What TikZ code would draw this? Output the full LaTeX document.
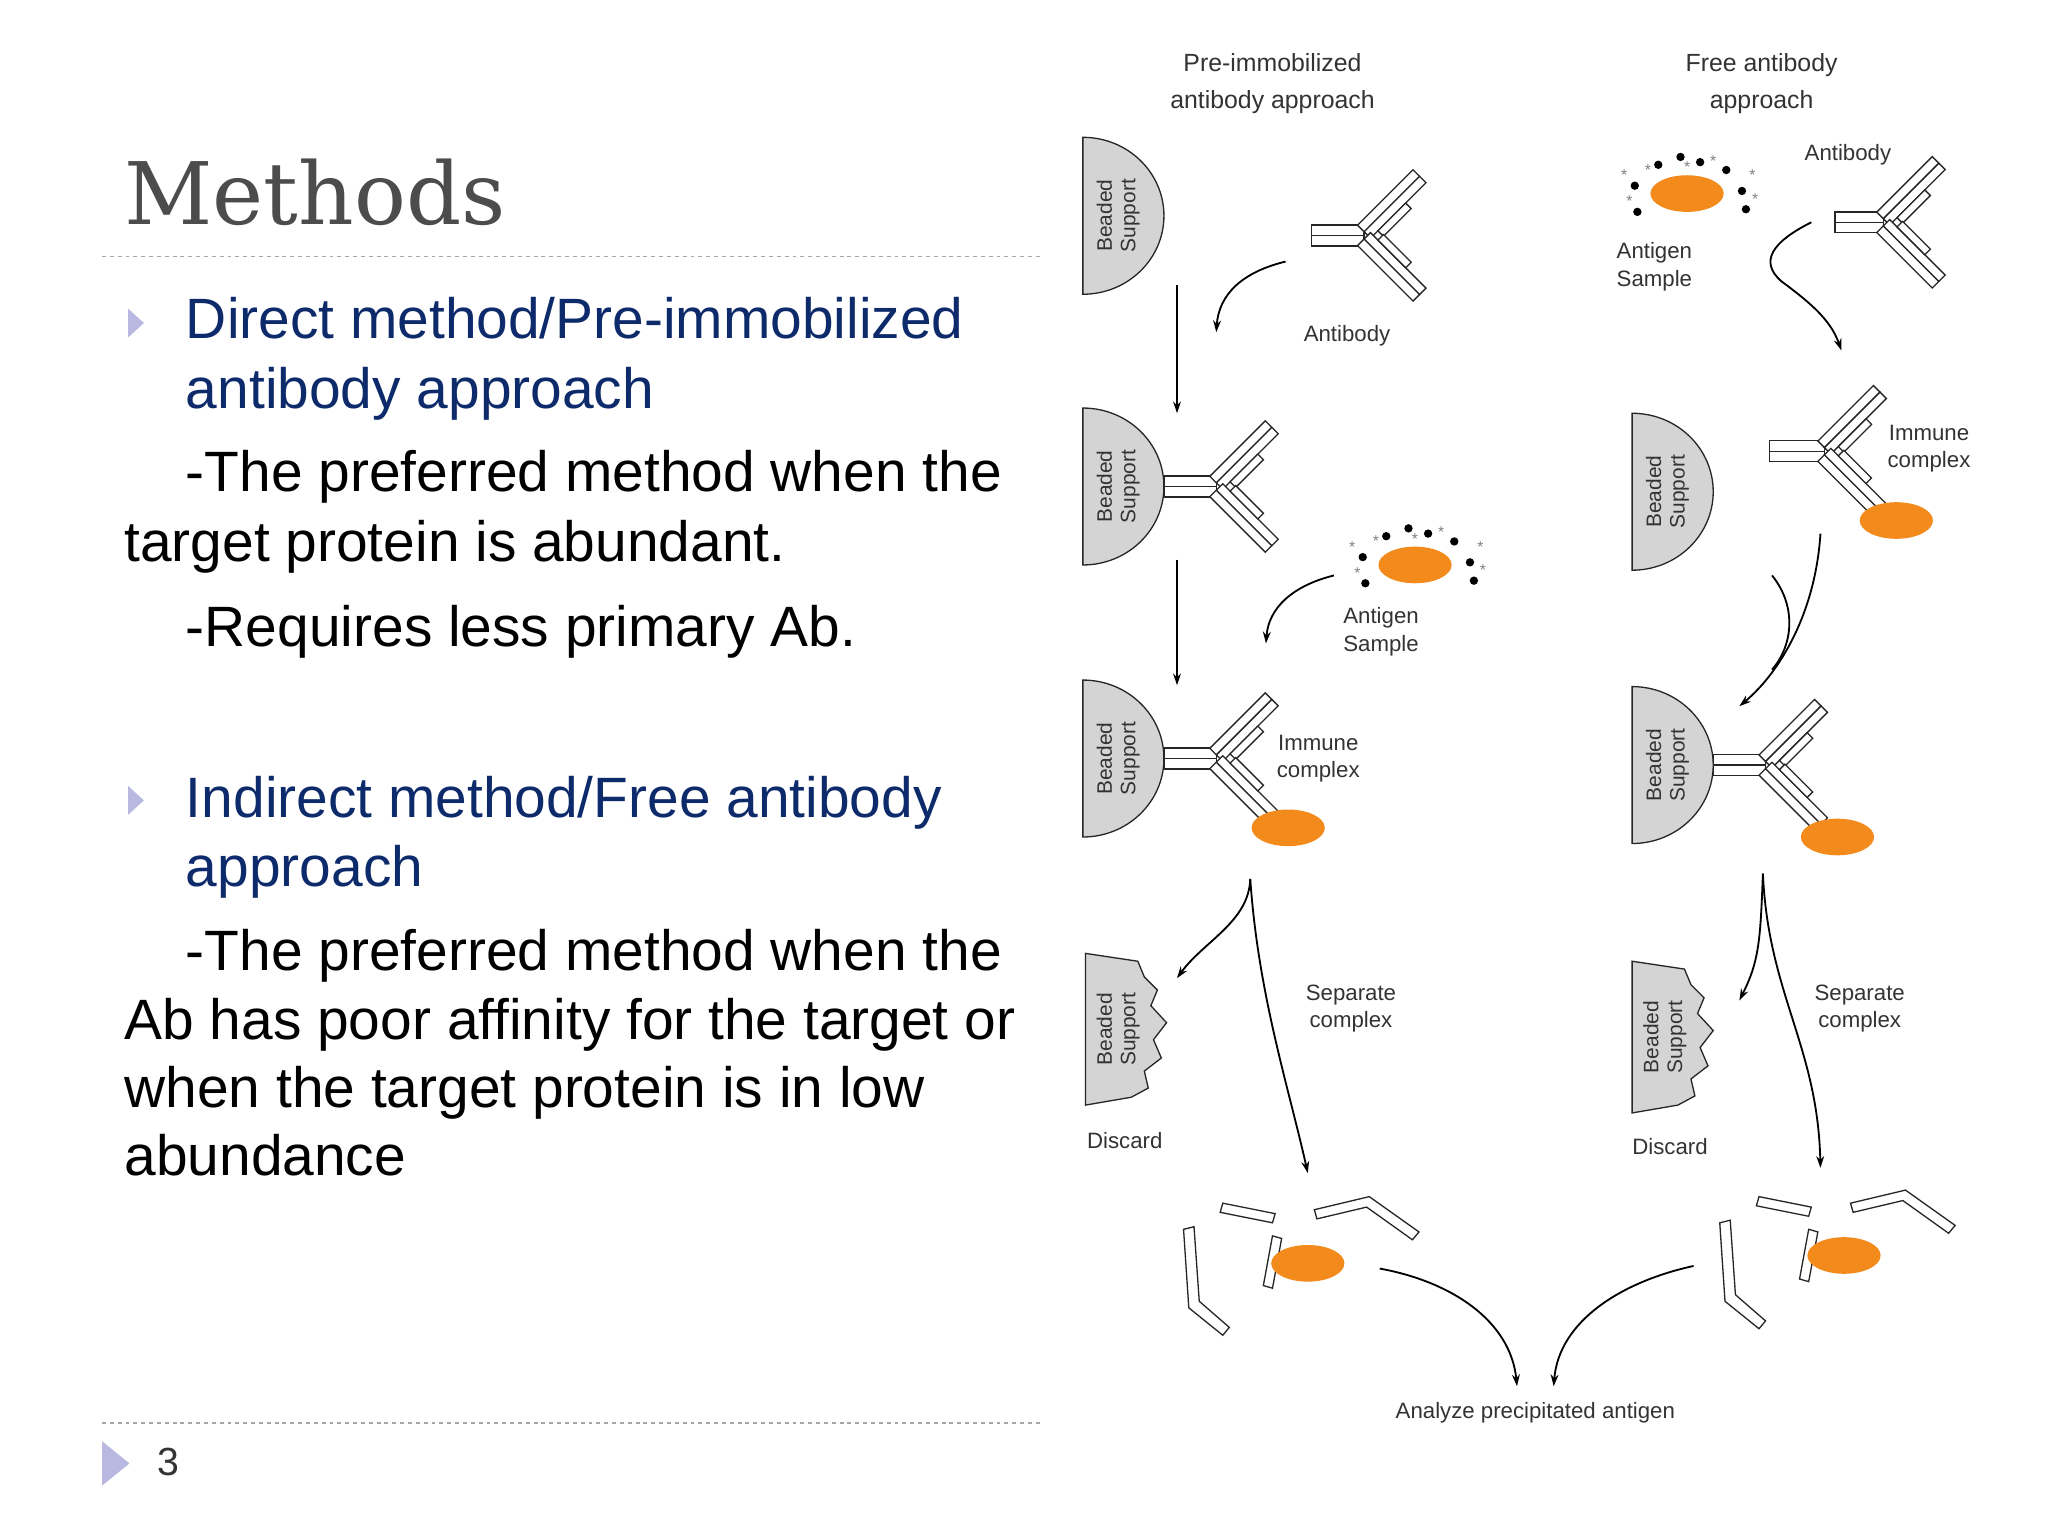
\documentclass[tikz,border=0pt]{standalone}
\usepackage{fontspec}
\setmainfont{Liberation Sans}
\newfontfamily\serifm{DejaVu Serif}
\usetikzlibrary{arrows.meta}
\definecolor{tblue}{HTML}{0D2A6B}
\definecolor{org}{HTML}{F28A1C}
\definecolor{bead}{HTML}{D4D4D4}
\definecolor{lbl}{HTML}{333333}
\tikzset{
 body/.style={anchor=base west,font=\fontsize{43.5}{50}\selectfont,inner sep=0},
 bl/.style={body,text=tblue},
 lab/.style={font=\fontsize{17}{21}\selectfont,text=lbl,align=center,inner sep=0},
 ln/.style={line width=1pt,draw=black!85},
 arr/.style={line width=1.4pt,-{Stealth[length=9pt,width=6pt]}},
 pics/bead/.style={code={
   \draw[ln,fill=bead] (0,-60) arc[start angle=-90,end angle=90,x radius=62,y radius=60] -- cycle;
   \node[lab,rotate=90,font=\fontsize{16}{18}\selectfont] at (27,0) {Beaded\\Support};}},
 pics/brokenbead/.style={code={
   \draw[ln,fill=bead] (0,-58) -- (40,-52) -- (45,-40) -- (55,-30) -- (50,-18) -- (62,-5) -- (52,8) -- (58,22) -- (45,32) -- (48,45) -- (35,52) -- (0,58) -- cycle;
   \node[lab,rotate=90,font=\fontsize{16}{18}\selectfont] at (25,0) {Beaded\\Support};}},
 pics/ab/.style={code={
   \draw[ln,fill=white] (-#1,-8) rectangle (0,0);
   \draw[ln,fill=white] (-#1,0) rectangle (0,8);
   \begin{scope}[rotate=45]
     \draw[ln,fill=white] (2,-2) rectangle (62,5);
     \draw[ln,fill=white] (2,-9) rectangle (62,-2);
     \draw[ln,fill=white] (10,5) rectangle (40,11);
   \end{scope}
   \begin{scope}[rotate=-45]
     \draw[ln,fill=white] (2,2) rectangle (62,-5);
     \draw[ln,fill=white] (2,9) rectangle (62,2);
     \draw[ln,fill=white] (10,-5) rectangle (40,-11);
   \end{scope}}},
 pics/sample/.style={code={
   \fill[org] (0,0) ellipse[x radius=28,y radius=14];
   \foreach \p in {(-40,-6),(-22,-22),(10,-24),(30,-18),(42,-2),(-38,14),(45,12),(-5,-28)}{\fill[black] \p circle (3.2);}
   \foreach \p in {(-48,-14),(-30,-18),(20,-25),(50,-14),(-44,6),(52,4),(0,-20)}{\node[text=gray,font=\fontsize{12}{12}\selectfont,inner sep=0] at \p {*};}}},
 pics/frag/.style={code={
   \draw[ln,fill=white] (0,0) -- (40,8) -- (38,15) -- (-2,7) -- cycle;
   \draw[ln,fill=white] (70,5) -- (112,-5) -- (150,22) -- (145,28) -- (110,3) -- (72,12) -- cycle;
   \draw[ln,fill=white] (-30,20) -- (-22,18) -- (-18,75) -- (5,95) -- (0,101) -- (-26,80) -- cycle;
   \draw[ln,fill=white] (38,25) -- (45,27) -- (38,65) -- (31,63) -- cycle;}}
}
\begin{document}
\begin{tikzpicture}[x=1pt,y=-1pt]
\useasboundingbox (0,0) rectangle (1566,1174.5);
\fill[white] (0,0) rectangle (1566,1174.5);
% left text
\node[anchor=base west,inner sep=0,text=black!70,font=\serifm\fontsize{66}{66}\selectfont] at (95,172) {Methods};
\draw[gray!70,dashed,line width=1pt] (78,196) -- (796,196);
\draw[gray!70,dashed,line width=1pt] (78,1088) -- (796,1088);
\fill[gray!60!blue!40] (98,236) -- (110,247) -- (98,258) -- cycle;
\fill[gray!60!blue!40] (98,601) -- (110,612) -- (98,623) -- cycle;
\fill[gray!60!blue!40] (78,1102) -- (99,1119) -- (78,1136) -- cycle;
\node[anchor=base west,inner sep=0,font=\fontsize{30}{30}\selectfont,text=black!80] at (120,1128) {3};
\node[bl] at (142,259) {Direct method/Pre-immobilized};
\node[bl] at (142,312) {antibody approach};
\node[body] at (142,376) {-The preferred method when the};
\node[body] at (95,429) {target protein is abundant.};
\node[body] at (142,494) {-Requires less primary Ab.};
\node[bl] at (142,625) {Indirect method/Free antibody};
\node[bl] at (142,678) {approach};
\node[body] at (142,742) {-The preferred method when the};
\node[body] at (95,795) {Ab has poor affinity for the target or};
\node[body] at (95,847) {when the target protein is in low};
\node[body] at (95,899) {abundance};
% headers
\node[lab,font=\fontsize{19}{28}\selectfont] (h1) at (973,64) {Pre-immobilized\\antibody approach};
\node[lab,font=\fontsize{19}{28}\selectfont] (h2) at (1347,64) {Free antibody\\approach};
% left column
\pic at (828,165) {bead};
\pic at (828,372) {bead};
\pic at (828,580) {bead};
\pic at (1043,180) {ab=40};
\pic at (930,372) {ab=40};
\pic at (930,580) {ab=40};
\fill[org] (985,633) ellipse[x radius=28,y radius=14];
\pic at (1082,432) {sample};
\node[lab] at (1030,257) {Antibody};
\node[lab] at (1056,483) {Antigen\\Sample};
\node[lab] at (1008,580) {Immune\\complex};
\node[lab] at (1033,771) {Separate\\complex};
\node[lab] at (860,872) {Discard};
\pic at (830,787) {brokenbead};
\coordinate (a1) at (900,218); \coordinate (a2) at (900,316);
\draw[arr] (a1) -- (a2);
\coordinate (a3) at (900,428); \coordinate (a4) at (900,524);
\draw[arr] (a3) -- (a4);
\coordinate (c1) at (983,200); \coordinate (c2) at (930,254);
\draw[arr] (c1) .. controls (950,208) and (932,225) .. (c2);
\coordinate (c3) at (1020,440); \coordinate (c4) at (968,492);
\draw[arr] (c3) .. controls (988,448) and (970,465) .. (c4);
\coordinate (s1) at (956,672); \coordinate (s2) at (900,748); \coordinate (s3) at (1000,897);
\draw[arr] (s1) .. controls (955,705) and (920,720) .. (s2);
\draw[arr] (s1) .. controls (962,760) and (985,830) .. (s3);
\pic at (935,920) {frag};
\fill[org] (1000,966) ellipse[x radius=28,y radius=14];
% right column
\pic at (1290,148) {sample};
\pic at (1440,170) {ab=37};
\pic at (1395,345) {ab=42};
\fill[org] (1450,398) ellipse[x radius=28,y radius=14];
\pic at (1248,376) {bead};
\pic at (1248,585) {bead};
\pic at (1350,585) {ab=40};
\fill[org] (1405,640) ellipse[x radius=28,y radius=14];
\pic at (1248,793) {brokenbead};
\node[lab] at (1413,118) {Antibody};
\node[lab] at (1265,204) {Antigen\\Sample};
\node[lab] at (1475,343) {Immune\\complex};
\node[lab] at (1422,771) {Separate\\complex};
\node[lab] at (1277,877) {Discard};
\coordinate (r1) at (1385,170); \coordinate (r2) at (1408,268);
\draw[arr] (r1) .. controls (1355,185) and (1345,200) .. (1362,215) .. controls (1385,232) and (1400,245) .. (r2);
\coordinate (r3) at (1392,408); \coordinate (r4) at (1330,540); \coordinate (r5) at (1355,440);
\draw[arr] (r3) .. controls (1388,470) and (1360,515) .. (r4);
\draw[line width=1.4pt] (r5) .. controls (1375,465) and (1370,495) .. (1355,512);
\coordinate (q1) at (1348,668); \coordinate (q2) at (1330,765); \coordinate (q3) at (1392,893);
\draw[arr] (q1) .. controls (1346,720) and (1345,735) .. (q2);
\draw[arr] (q1) .. controls (1352,760) and (1390,800) .. (q3);
\pic at (1345,915) {frag};
\fill[org] (1410,960) ellipse[x radius=28,y radius=14];
\node[lab] (an) at (1174,1080) {Analyze precipitated antigen};
\coordinate (b1) at (1055,970); \coordinate (b2) at (1160,1060);
\coordinate (b3) at (1295,968); \coordinate (b4) at (1188,1060);
\draw[arr] (b1) .. controls (1110,980) and (1155,1010) .. (b2);
\draw[arr] (b3) .. controls (1240,980) and (1192,1010) .. (b4);
\end{tikzpicture}
\end{document}
